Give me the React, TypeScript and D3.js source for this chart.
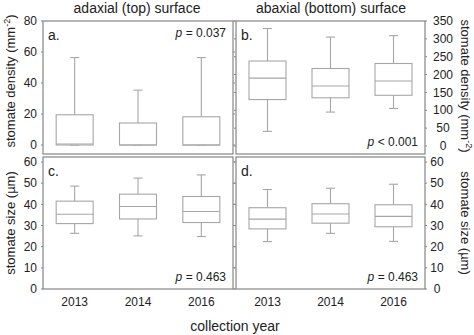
import React from 'react';
import * as d3 from 'd3';

// five-number summaries: [min, q1, median, q3, max]
const years = ['2013', '2014', '2016'];
const adaxialDensity = [
  [0, 0, 0.6, 19.5, 56.4],
  [0, 0, 0, 14.2, 35.4],
  [0, 0, 0, 18.2, 56.4],
];
const abaxialDensity = [
  [41, 130, 190, 238, 329],
  [95, 135, 168, 217, 305],
  [105, 142, 182, 231, 309],
];
const adaxialSize = [
  [26.3, 30.9, 35.3, 41.5, 48.6],
  [25.1, 33.1, 39.0, 44.8, 52.4],
  [24.8, 31.4, 36.6, 43.7, 53.9],
];
const abaxialSize = [
  [22.4, 28.4, 33.0, 38.4, 47.0],
  [26.3, 31.1, 35.4, 40.3, 47.6],
  [22.5, 29.4, 34.3, 39.8, 49.5],
];
const densityTicksTop = [0, 20, 40, 60, 80];
const densityTicksBottom = [0, 50, 100, 150, 200, 250, 300, 350];
const sizeTicks = [0, 10, 20, 30, 40, 50, 60];
const pLabels = ['= 0.037', '< 0.001', '= 0.463', '= 0.463'];
const panelLetters = ['a.', 'b.', 'c.', 'd.'];

const FONT = "'Liberation Sans', Arial, Helvetica, sans-serif";
const TEXT = '#222';
const BORDER = '#858585';
const BOX = '#a6a6a6';

type Panel = {
  x0: number; x1: number; y0: number; y1: number;
  y: d3.ScaleLinear<number, number>;
  data: number[][];
  ticks: number[];
  side: 'left' | 'right';
  labelOffset: number;
  letter: string;
  p: string;
  pTop: boolean;
  xLabels: boolean;
};

function PanelView({ pn }: { pn: Panel }) {
  const x = d3.scalePoint<string>().domain(years).range([pn.x0, pn.x1]).padding(0.5);
  const bw = 37;
  const cap = 9;
  const labelX = pn.side === 'left' ? pn.x0 - 6 : (pn.x1 + pn.labelOffset);
  return (
    <g>
      <rect x={pn.x0} y={pn.y0} width={pn.x1 - pn.x0} height={pn.y1 - pn.y0}
        fill="none" stroke={BORDER} strokeWidth={1.2} />
      {pn.ticks.map((t) => (
        <g key={t}>
          <line x1={pn.x0 - 2} x2={pn.x0} y1={pn.y(t)} y2={pn.y(t)} stroke={BORDER} />
          <line x1={pn.x1} x2={pn.x1 + 2} y1={pn.y(t)} y2={pn.y(t)} stroke={BORDER} />
          <text x={labelX} y={pn.y(t)} dy="0.35em" fontSize={12} fill={TEXT}
            textAnchor={pn.side === 'left' ? 'end' : 'middle'} fontFamily={FONT}>{t}</text>
        </g>
      ))}
      {pn.data.map((d, i) => {
        const cx = x(years[i])!;
        const [mn, q1, md, q3, mx] = d;
        return (
          <g key={i} stroke={BOX} strokeWidth={1.1} fill="none">
            <line x1={cx} x2={cx} y1={pn.y(mx)} y2={pn.y(q3)} />
            <line x1={cx} x2={cx} y1={pn.y(q1)} y2={pn.y(mn)} />
            <line x1={cx - cap / 2} x2={cx + cap / 2} y1={pn.y(mx)} y2={pn.y(mx)} />
            <line x1={cx - cap / 2} x2={cx + cap / 2} y1={pn.y(mn)} y2={pn.y(mn)} />
            <rect x={cx - bw / 2} y={pn.y(q3)} width={bw} height={pn.y(q1) - pn.y(q3)} fill="white" />
            <line x1={cx - bw / 2} x2={cx + bw / 2} y1={pn.y(md)} y2={pn.y(md)} />
          </g>
        );
      })}
      <text x={pn.x0 + 5} y={pn.y0 + 14} dy="0.35em" fontSize={14} fill={TEXT} fontFamily={FONT}>{pn.letter}</text>
      <text x={pn.x1 - 7} y={pn.pTop ? pn.y0 + 12 : pn.y1 - 12} dy="0.35em" fontSize={12} fill={TEXT}
        textAnchor="end" fontFamily={FONT}>
        <tspan fontStyle="italic">p</tspan> {pn.p}
      </text>
      {pn.xLabels && years.map((yr) => (
        <text key={yr} x={x(yr)!} y={302} dy="0.35em" textAnchor="middle" fontSize={12}
          fill={TEXT} fontFamily={FONT}>{yr}</text>
      ))}
    </g>
  );
}

export default function App() {
  const L = [43, 233];
  const R = [236, 425];
  const T = [21, 154];
  const B = [157, 289];
  const yA = d3.scaleLinear().domain([0, 80]).range([145, 21]);
  const yB = d3.scaleLinear().domain([0, 350]).range([146, 21]);
  const yS = d3.scaleLinear().domain([0, 60]).range([289, 162]);
  const panels: Panel[] = [
    { x0: L[0], x1: L[1], y0: T[0], y1: T[1], y: yA, data: adaxialDensity, ticks: densityTicksTop, side: 'left', labelOffset: 0, letter: panelLetters[0], p: pLabels[0], pTop: true, xLabels: false },
    { x0: R[0], x1: R[1], y0: T[0], y1: T[1], y: yB, data: abaxialDensity, ticks: densityTicksBottom, side: 'right', labelOffset: 18, letter: panelLetters[1], p: pLabels[1], pTop: false, xLabels: false },
    { x0: L[0], x1: L[1], y0: B[0], y1: B[1], y: yS, data: adaxialSize, ticks: sizeTicks, side: 'left', labelOffset: 0, letter: panelLetters[2], p: pLabels[2], pTop: false, xLabels: true },
    { x0: R[0], x1: R[1], y0: B[0], y1: B[1], y: yS, data: abaxialSize, ticks: sizeTicks, side: 'right', labelOffset: 12, letter: panelLetters[3], p: pLabels[3], pTop: false, xLabels: true },
  ];
  return (
    <svg width={474} height={335} style={{ position: 'absolute', left: 0, top: 0, background: 'white' }}
      fontFamily={FONT}>
      <rect width={474} height={335} fill="white" />
      {panels.map((pn, i) => <PanelView key={i} pn={pn} />)}
      <text x={137} y={8} dy="0.35em" textAnchor="middle" fontSize={14} fill={TEXT}>adaxial (top) surface</text>
      <text x={331} y={8} dy="0.35em" textAnchor="middle" fontSize={14} fill={TEXT}>abaxial (bottom) surface</text>
      <text x={235} y={326} dy="0.35em" textAnchor="middle" fontSize={14} fill={TEXT}>collection year</text>
      <text transform="translate(10,81) rotate(-90)" dy="0.35em" textAnchor="middle" fontSize={13} fill={TEXT}>
        stomate density (mm<tspan dy="-5" fontSize={9}>-2</tspan><tspan dy="5">)</tspan>
      </text>
      <text transform="translate(10,223) rotate(-90)" dy="0.35em" textAnchor="middle" fontSize={13} fill={TEXT}>
        stomate size (µm)
      </text>
      <text transform="translate(466,86) rotate(90)" dy="0.35em" textAnchor="middle" fontSize={13} fill={TEXT}>
        stomate density (mm<tspan dy="-5" fontSize={9}>-2</tspan><tspan dy="5">)</tspan>
      </text>
      <text transform="translate(466,223) rotate(90)" dy="0.35em" textAnchor="middle" fontSize={13} fill={TEXT}>
        stomate size (µm)
      </text>
    </svg>
  );
}
